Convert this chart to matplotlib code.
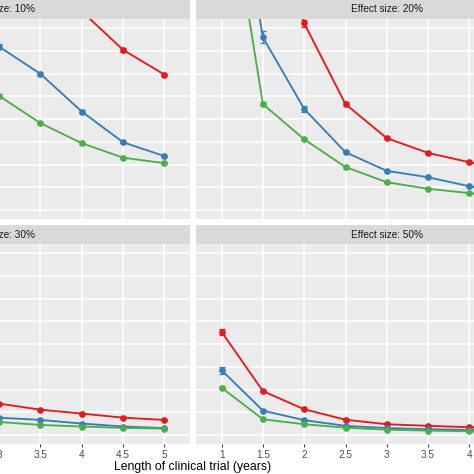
import matplotlib
matplotlib.use("Agg")
import matplotlib.pyplot as plt

# trial length (years)
years = [1, 1.5, 2, 2.5, 3, 3.5, 4, 4.5, 5]
x_ticks = [1, 1.5, 2, 2.5, 3, 3.5, 4, 4.5, 5]
x_tick_labels = ["1", "1.5", "2", "2.5", "3", "3.5", "4", "4.5", "5"]
panel_titles = ["Effect size: 10%", "Effect size: 20%",
                "Effect size: 30%", "Effect size: 50%"]

# values per effect size (same units for all panels)
red_10 = [110, 78, 33, 18.8, 12.8, 10.3, 8.75, 7.05, 5.96]
blue_10 = [75, 30, 17.5, 10.5, 7.19, 5.99, 4.33, 2.98, 2.37]
green_10 = [60, 19, 10.5, 6.8, 5.02, 3.82, 2.94, 2.30, 2.06]

red_20 = [28, 20, 8.22, 4.66, 3.16, 2.51, 2.10, 1.76, 1.49]
blue_20 = [18.5, 7.6, 4.45, 2.54, 1.72, 1.44, 1.04, 0.75, 0.59]
green_20 = [16, 4.66, 3.11, 1.89, 1.22, 0.93, 0.74, 0.58, 0.52]

red_30 = [12.5, 8.9, 3.65, 2.07, 1.38, 1.11, 0.94, 0.76, 0.66]
blue_30 = [8.2, 3.4, 1.98, 1.13, 0.76, 0.66, 0.50, 0.37, 0.30]
green_30 = [7.1, 2.07, 1.38, 0.84, 0.57, 0.44, 0.37, 0.31, 0.28]

red_50 = [4.54, 1.93, 1.13, 0.67, 0.47, 0.40, 0.34, 0.30, 0.27]
blue_50 = [2.85, 1.07, 0.65, 0.40, 0.30, 0.25, 0.22, 0.19, 0.17]
green_50 = [2.08, 0.69, 0.47, 0.32, 0.23, 0.19, 0.16, 0.14, 0.13]

# error bar half widths
red_10_err = [2.0, 1.5, 0.6, 0.3, 0.2, 0.15, 0.12, 0.10, 0.08]
blue_10_err = [1.5, 0.6, 0.35, 0.2, 0.11, 0.08, 0.06, 0.05, 0.04]
green_10_err = [1.2, 0.4, 0.2, 0.1, 0.07, 0.05, 0.04, 0.03, 0.03]
red_20_err = [0.6, 0.4, 0.15, 0.08, 0.05, 0.04, 0.03, 0.03, 0.02]
blue_20_err = [0.5, 0.26, 0.12, 0.05, 0.04, 0.03, 0.02, 0.02, 0.02]
green_20_err = [0.4, 0.1, 0.05, 0.03, 0.02, 0.02, 0.02, 0.01, 0.01]
red_30_err = [0.3, 0.2, 0.08, 0.04, 0.03, 0.02, 0.02, 0.02, 0.01]
blue_30_err = [0.2, 0.08, 0.04, 0.03, 0.02, 0.02, 0.01, 0.01, 0.01]
green_30_err = [0.15, 0.04, 0.03, 0.02, 0.01, 0.01, 0.01, 0.01, 0.01]
red_50_err = [0.13, 0.04, 0.03, 0.02, 0.01, 0.01, 0.01, 0.01, 0.01]
blue_50_err = [0.15, 0.03, 0.02, 0.01, 0.01, 0.01, 0.01, 0.01, 0.01]
green_50_err = [0.06, 0.02, 0.01, 0.01, 0.01, 0.01, 0.01, 0.01, 0.01]

RED, BLUE, GREEN = "#E41A1C", "#377EB8", "#4DAF4A"
plt.rcParams['font.family'] = ['Liberation Sans', 'DejaVu Sans']

W = 474.0


def px_box(left, top, width, height):
    # pixel box (top-left origin) -> figure fraction
    return [left / W, (W - top - height) / W, width / W, height / W]


def draw_panel(fig, box, title, series, bottom_row):
    left, top, width, height = box
    ax = fig.add_axes(px_box(left, top, width, height))
    ax.set_facecolor("#EBEBEB")
    for s in ax.spines.values():
        s.set_visible(False)
    ax.set_xlim(0.69, 5.31)
    ax.set_ylim(-0.40, 8.41)
    ax.set_xticks(x_ticks)
    ax.set_yticks(range(0, 9))
    ax.grid(True, color="white", linewidth=1.1)
    ax.set_axisbelow(True)
    ax.tick_params(axis="y", left=False, labelleft=False)
    if bottom_row:
        ax.set_xticklabels(x_tick_labels)
        ax.tick_params(axis="x", colors="#333333", length=2.5, width=0.7,
                       labelsize=7.2, labelcolor="#4D4D4D", pad=1.5)
    else:
        ax.tick_params(axis="x", bottom=False, labelbottom=False)

    for vals, err, col in series:
        ax.plot(years, vals, color=col, linewidth=1.35, zorder=3)
        ax.errorbar(years, vals, yerr=err, fmt="o", color=col, markersize=3.8,
                    elinewidth=0.9, capsize=2.0, capthick=0.9, zorder=4)

    # facet strip
    sx = fig.add_axes(px_box(left, top - 19, width, 19))
    sx.set_facecolor("#D9D9D9")
    sx.set_xticks([])
    sx.set_yticks([])
    for s in sx.spines.values():
        s.set_visible(False)
    sx.text(0.5, 0.5, title, ha="center", va="center", fontsize=7.2,
            color="#1A1A1A", transform=sx.transAxes)
    return ax


fig = plt.figure(figsize=(4.74, 4.74), dpi=100)
fig.patch.set_facecolor("white")

pw, ph = 381.6, 200.0
draw_panel(fig, (-191.6, 19, pw, ph), panel_titles[0],
           [(red_10, red_10_err, RED), (blue_10, blue_10_err, BLUE),
            (green_10, green_10_err, GREEN)], False)
draw_panel(fig, (196, 19, pw, ph), panel_titles[1],
           [(red_20, red_20_err, RED), (blue_20, blue_20_err, BLUE),
            (green_20, green_20_err, GREEN)], False)
draw_panel(fig, (-191.6, 244, pw, ph), panel_titles[2],
           [(red_30, red_30_err, RED), (blue_30, blue_30_err, BLUE),
            (green_30, green_30_err, GREEN)], True)
draw_panel(fig, (196, 244, pw, ph), panel_titles[3],
           [(red_50, red_50_err, RED), (blue_50, blue_50_err, BLUE),
            (green_50, green_50_err, GREEN)], True)

fig.text(193 / W, 7 / W, "Length of clinical trial (years)", ha="center",
         va="center", fontsize=8.8, color="black")

fig.savefig("out.png", dpi=100)
